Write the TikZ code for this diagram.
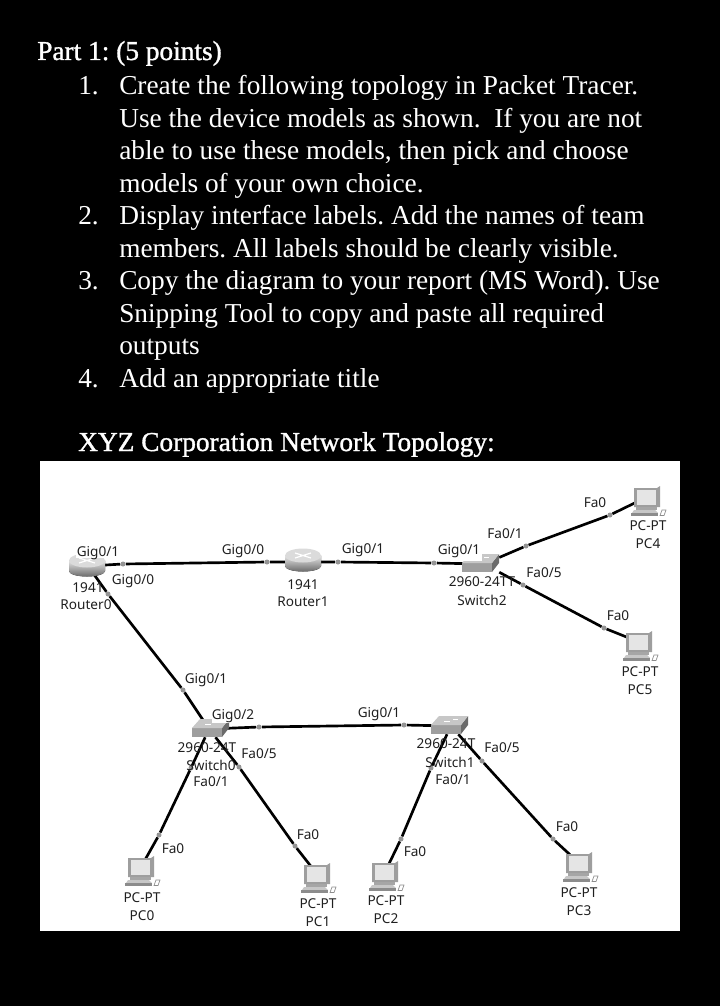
\documentclass[tikz,border=0pt]{standalone}
\usepackage{fontspec}
\setmainfont{Liberation Serif}
\newfontfamily\fakebold[FakeBold=1.2]{Liberation Serif}
\newfontfamily\labelfont{Noto Sans}
\begin{document}
\frenchspacing
\begin{tikzpicture}[x=0.75pt,y=-0.75pt,
  body/.style={font=\fontsize{20.5}{24}\selectfont,text=white,anchor=base west,inner sep=0pt},
  heading/.style={font=\fontsize{20.5}{24}\fakebold,text=white,anchor=base west,inner sep=0pt},
  lbl/.style={font=\labelfont\fontsize{10.2}{12}\selectfont,text=black!88,inner sep=0pt},
  port/.style={circle,fill=black!42,inner sep=0pt,minimum size=5pt*0.75},
  link/.style={line width=2pt,black},
  dev/.style={inner sep=0pt,minimum width=#1*0.75pt,minimum height=12pt},
  routericon/.pic={
    \fill[top color=black!10,bottom color=black!58] (-18,-4.5) -- (-18,6) arc[x radius=18,y radius=5.5,start angle=180,end angle=0] -- (18,-4.5) -- cycle;
    \fill[black!14] (0,-4.5) ellipse[x radius=18,y radius=7];
    \draw[white,line width=0.9pt] (-8,-7) -- (8,-2) (-8,-2) -- (8,-7);
  },
  switchicon/.pic={
    \fill[black!38] (-16,3) rectangle (14,12);
    \fill[black!58] (14,3) -- (21,-6) -- (21,3) -- (14,12) -- cycle;
    \fill[black!22] (-16,3) -- (-8,-6) -- (21,-6) -- (14,3) -- cycle;
    \draw[white,line width=0.5pt] (-3,-1) -- (3,-1) (6,-3) -- (11,-3);
  },
  pcicon/.pic={
    \fill[black!38] (-13,-9) -- (10,-9) -- (13,-11) -- (13,10) -- (-13,10) -- cycle;
    \fill[black!10] (-10.5,-7) rectangle (9,8);
    \fill[black!35] (-11,10) rectangle (10,13);
    \fill[black!22] (-15,16) -- (11,16) -- (8,13) -- (-13,13) -- cycle;
    \fill[black!45] (-16,16) rectangle (11,18.5);
    \draw[black!45,line width=0.5pt] (13,18.5) -- (15,13) -- (19,13) -- (17,18.5) -- cycle;
  }]
\useasboundingbox (0,0) rectangle (720,1006);
\fill[black] (0,0) rectangle (720,1006);
\node[heading] (title) at (37,60) {Part 1: (5 points)};
\node[body] (n1) at (78,94) {1.};
\node[body] (t1a) at (119,94) {Create the following topology in Packet Tracer.};
\node[body] (t1b) at (119,127) {Use the device models as shown.\ \ If you are not};
\node[body] (t1c) at (119,159) {able to use these models, then pick and choose};
\node[body] (t1d) at (119,192) {models of your own choice.};
\node[body] (n2) at (78,224) {2.};
\node[body] (t2a) at (119,224) {Display interface labels. Add the names of team};
\node[body] (t2b) at (119,257) {members. All labels should be clearly visible.};
\node[body] (n3) at (78,289) {3.};
\node[body] (t3a) at (119,289) {Copy the diagram to your report (MS Word). Use};
\node[body] (t3b) at (119,322) {Snipping Tool to copy and paste all required};
\node[body] (t3c) at (119,354) {outputs};
\node[body] (n4) at (78,387) {4.};
\node[body] (t4a) at (119,387) {Add an appropriate title};
\node[heading] (sub) at (78,451) {XYZ Corporation Network Topology:};
\fill[white] (40,461) rectangle (680,931);
% devices (invisible anchors for the connectors)
\node[dev=30] (r0) at (88,566) {};
\node[dev=30] (r1) at (303,562) {};
\node[dev=30] (s2) at (484,564) {};
\node[dev=30] (s0) at (209,729) {};
\node[dev=30] (s1) at (451,726) {};
\node[dev=24] (pc4) at (647,497) {};
\node[dev=24] (pc5) at (639,642) {};
\node[dev=24] (pc0) at (141,867) {};
\node[dev=24] (pc1) at (317,874) {};
\node[dev=24] (pc2) at (385,872) {};
\node[dev=24] (pc3) at (579,863) {};
% ports
\node[port] (a1) at (123,564) {};
\node[port] (a2) at (267,562) {};
\node[port] (b1) at (338,562) {};
\node[port] (b2) at (434,563) {};
\node[port] (c1) at (526,546) {};
\node[port] (c2) at (610,515) {};
\node[port] (d1) at (523,585) {};
\node[port] (d2) at (604,628) {};
\node[port] (e1) at (108,594) {};
\node[port] (e2) at (183,690) {};
\node[port] (f1) at (259,727) {};
\node[port] (f2) at (404,725) {};
\node[port] (g1) at (191,768) {};
\node[port] (g2) at (159,835) {};
\node[port] (h1) at (239,767) {};
\node[port] (h2) at (295,846) {};
\node[port] (i1) at (431,768) {};
\node[port] (i2) at (401,839) {};
\node[port] (j1) at (482,761) {};
\node[port] (j2) at (553,839) {};
% connectors
\draw[link] (r0) -- (a1) -- (a2) -- (r1);
\draw[link] (r1) -- (b1) -- (b2) -- (s2);
\draw[link] (s2) -- (c1) -- (c2) -- (pc4);
\draw[link] (s2) -- (d1) -- (d2) -- (pc5);
\draw[link] (r0) -- (e1) -- (e2) -- (s0);
\draw[link] (s0) -- (f1) -- (f2) -- (s1);
\draw[link] (s0) -- (g1) -- (g2) -- (pc0);
\draw[link] (s0) -- (h1) -- (h2) -- (pc1);
\draw[link] (s1) -- (i1) -- (i2) -- (pc2);
\draw[link] (s1) -- (j1) -- (j2) -- (pc3);
% icons
\pic at (87,565) {routericon};
\fill[white] (76,546) rectangle (119,558);
\pic at (303,560) {routericon};
\pic at (208,725) {switchicon};
\fill[white] (212,708) rectangle (255,723);
\pic at (447,722) {switchicon};
\pic at (478,560) {switchicon};
\fill[white] (437,543) rectangle (482,561);
\pic at (647,497) {pcicon};
\pic at (639,642) {pcicon};
\pic at (141,867) {pcicon};
\pic at (317,874) {pcicon};
\pic at (385,872) {pcicon};
\pic at (579,863) {pcicon};
% labels
\node[lbl] (l1) at (98,553) {Gig0/1};
\node[lbl] (l2) at (133,581) {Gig0/0};
\node[lbl] (l3) at (88,588) {1941};
\node[lbl] (l4) at (86,605) {Router0};
\node[lbl] (l5) at (243,551) {Gig0/0};
\node[lbl] (l6) at (303,585) {1941};
\node[lbl] (l7) at (303,602) {Router1};
\node[lbl] (l8) at (363,550) {Gig0/1};
\node[lbl] (l9) at (459,551) {Gig0/1};
\node[lbl] (l10) at (505,534) {Fa0/1};
\node[lbl] (l11) at (544,573) {Fa0/5};
\node[lbl] (l12) at (482,582) {2960-24TT};
\node[lbl] (l13) at (482,600) {Switch2};
\node[lbl] (l14) at (595,503) {Fa0};
\node[lbl] (l15) at (648,526) {PC-PT};
\node[lbl] (l16) at (648,544) {PC4};
\node[lbl] (l17) at (618,616) {Fa0};
\node[lbl] (l18) at (640,672) {PC-PT};
\node[lbl] (l19) at (640,690) {PC5};
\node[lbl] (l20) at (206,680) {Gig0/1};
\node[lbl] (l21) at (233,716) {Gig0/2};
\node[lbl] (l22) at (379,714) {Gig0/1};
\node[lbl] (l23) at (207,748) {2960-24T};
\node[lbl] (l24) at (211,765) {Switch0};
\node[lbl] (l25) at (211,782) {Fa0/1};
\node[lbl] (l26) at (259,754) {Fa0/5};
\node[lbl] (l27) at (446,744) {2960-24T};
\node[lbl] (l28) at (450,762) {Switch1};
\node[lbl] (l29) at (453,780) {Fa0/1};
\node[lbl] (l30) at (502,748) {Fa0/5};
\node[lbl] (l31) at (173,849) {Fa0};
\node[lbl] (l32) at (308,835) {Fa0};
\node[lbl] (l33) at (415,852) {Fa0};
\node[lbl] (l34) at (567,827) {Fa0};
\node[lbl] (l35) at (142,898) {PC-PT};
\node[lbl] (l36) at (142,916) {PC0};
\node[lbl] (l37) at (318,904) {PC-PT};
\node[lbl] (l38) at (318,922) {PC1};
\node[lbl] (l39) at (386,901) {PC-PT};
\node[lbl] (l40) at (386,919) {PC2};
\node[lbl] (l41) at (579,893) {PC-PT};
\node[lbl] (l42) at (579,911) {PC3};
\end{tikzpicture}
\end{document}
